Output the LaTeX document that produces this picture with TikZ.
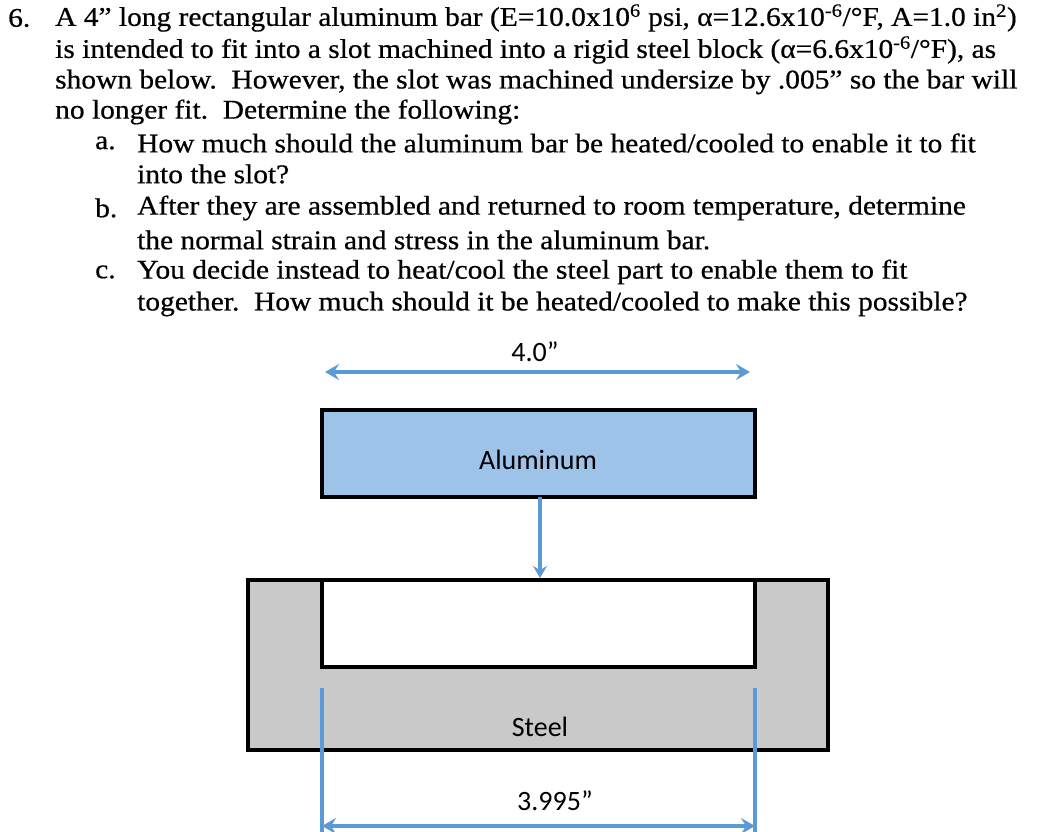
\documentclass[tikz,border=0pt]{standalone}
\usepackage{fontspec}
\setmainfont{Liberation Serif}[FakeStretch=1.09,FakeBold=0.6]
\newfontfamily\calib{Carlito}
\usetikzlibrary{arrows.meta}
\definecolor{dimblue}{HTML}{5B9BD5}
\definecolor{alfill}{HTML}{9DC3E9}
\definecolor{stfill}{HTML}{C9C9C9}
\tikzset{
 txt/.style={anchor=west,inner sep=0pt,font=\fontsize{27}{30}\selectfont},
 lab/.style={inner sep=0pt,font=\calib\fontsize{28}{30}\selectfont},
 dim/.style={draw=dimblue,line width=3.5pt},
 dimarrow/.style={dim,{Stealth[length=14pt,width=16pt,inset=5pt]}-{Stealth[length=14pt,width=16pt,inset=5pt]}},
 body/.style={draw=black,line width=3.5pt}
}
\begin{document}
\begin{tikzpicture}[x=1pt,y=-1pt]
\useasboundingbox (0,0) rectangle (1052,832);
\node[txt] (n6) at (8,18) {6.};
\node[txt] (l1) at (55,18) {A 4” long rectangular aluminum bar (E=10.0x10\textsuperscript{6} psi, α=12.6x10\textsuperscript{-6}/°F, A=1.0 in\textsuperscript{2})};
\node[txt] (l2) at (55,50) {is intended to fit into a slot machined into a rigid steel block (α=6.6x10\textsuperscript{-6}/°F), as};
\node[txt] (l3) at (55,82) {shown below.\ \ However, the slot was machined undersize by .005” so the bar will};
\node[txt] (l4) at (55,112) {no longer fit.\ \ Determine the following:};
\node[txt] (a) at (95,143) {a.};
\node[txt] (a1) at (137,143) {How much should the aluminum bar be heated/cooled to enable it to fit};
\node[txt] (a2) at (137,174) {into the slot?};
\node[txt] (b) at (95,208) {b.};
\node[txt] (b1) at (137,208) {After they are assembled and returned to room temperature, determine};
\node[txt] (b2) at (137,240) {the normal strain and stress in the aluminum bar.};
\node[txt] (c) at (95,272) {c.};
\node[txt] (c1) at (137,272) {You decide instead to heat/cool the steel part to enable them to fit};
\node[txt] (c2) at (137,304) {together.\ \ How much should it be heated/cooled to make this possible?};
\coordinate (t1) at (325,372); \coordinate (t2) at (750,372);
\draw[dimarrow] (t1) -- (t2);
\node[lab] (tl) at (535,352) {4.0”};
\draw[body,fill=alfill] (322,410) rectangle (755,497);
\node[lab] (al) at (538,460) {Aluminum};
\coordinate (d1) at (540,497); \coordinate (d2) at (540,578);
\draw[dim,-{Stealth[length=12pt,width=14pt,inset=4pt]}] (d1) -- (d2);
\draw[body,fill=stfill] (248,580) rectangle (828,750);
\draw[body,fill=white] (322,580) rectangle (755,667);
\node[lab] (st) at (540,727) {Steel};
\coordinate (v1a) at (322,688); \coordinate (v1b) at (322,832);
\coordinate (v2a) at (755,688); \coordinate (v2b) at (755,832);
\draw[dim] (v1a) -- (v1b);
\draw[dim] (v2a) -- (v2b);
\coordinate (b1) at (322,826); \coordinate (b2) at (755,826);
\draw[dimarrow] (b1) -- (b2);
\node[lab] (bl) at (555,801) {3.995”};
\end{tikzpicture}
\end{document}
